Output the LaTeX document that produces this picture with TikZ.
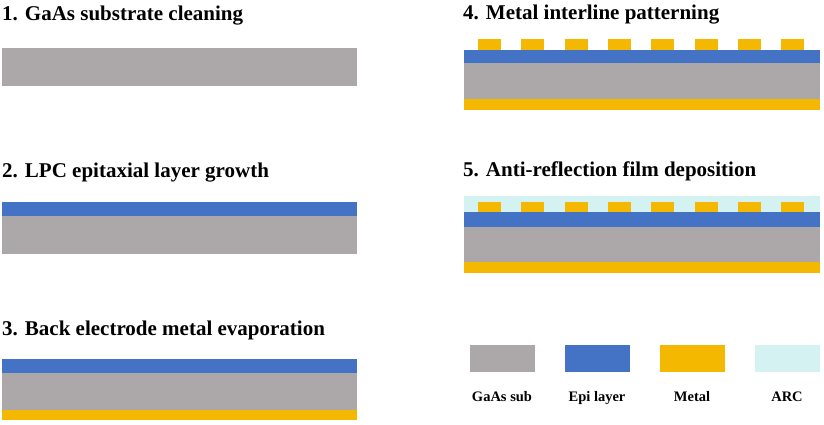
\documentclass[tikz,border=0pt]{standalone}
\usepackage{fontspec}
\setmainfont{Liberation Serif}[BoldFont={Liberation Serif Bold}]
\definecolor{gsub}{HTML}{ACA8A9}
\definecolor{epi}{HTML}{4472C4}
\definecolor{metal}{HTML}{F5B800}
\definecolor{arc}{HTML}{D5F2F2}
\begin{document}
\begin{tikzpicture}[x=1pt,y=-1pt,
  ttl/.style={anchor=base west,inner sep=0pt,font=\fontsize{21}{23}\selectfont\bfseries},
  lbl/.style={anchor=base,inner sep=0pt,font=\fontsize{14.5}{16}\selectfont\bfseries}]
\useasboundingbox (0,0) rectangle (824,424);
% panel 1
\node[ttl] (t1) at (2,20) {1. GaAs substrate cleaning};
\fill[gsub] (2,48) rectangle (357,86);
% panel 2
\node[ttl] (t2) at (2,177) {2. LPC epitaxial layer growth};
\fill[epi] (2,202) rectangle (357,216);
\fill[gsub] (2,216) rectangle (357,254);
% panel 3
\node[ttl] (t3) at (2,335) {3. Back electrode metal evaporation};
\fill[epi] (2,359) rectangle (357,373);
\fill[gsub] (2,373) rectangle (357,410);
\fill[metal] (2,410) rectangle (357,420);
% panel 4
\node[ttl] (t4) at (463,19) {4. Metal interline patterning};
\foreach \i in {0,...,7}{\fill[metal] ({478+43.3*\i},39) rectangle ({501+43.3*\i},50);}
\fill[epi] (464,50) rectangle (820,63);
\fill[gsub] (464,63) rectangle (820,99);
\fill[metal] (464,99) rectangle (820,110);
% panel 5
\node[ttl] (t5) at (463,176) {5. Anti-reflection film deposition};
\fill[arc] (464,196) rectangle (820,212);
\foreach \i in {0,...,7}{\fill[metal] ({478+43.3*\i},202) rectangle ({501+43.3*\i},212);}
\fill[epi] (464,212) rectangle (820,227);
\fill[gsub] (464,227) rectangle (820,262);
\fill[metal] (464,262) rectangle (820,273);
% legend
\fill[gsub] (470,345) rectangle (535,372);
\fill[epi] (565,345) rectangle (630,372);
\fill[metal] (660,345) rectangle (725,372);
\fill[arc] (755,345) rectangle (820,372);
\node[lbl] (l1) at (502,401) {GaAs sub};
\node[lbl] (l2) at (597,401) {Epi layer};
\node[lbl] (l3) at (692,401) {Metal};
\node[lbl] (l4) at (787,401) {ARC};
\end{tikzpicture}
\end{document}
